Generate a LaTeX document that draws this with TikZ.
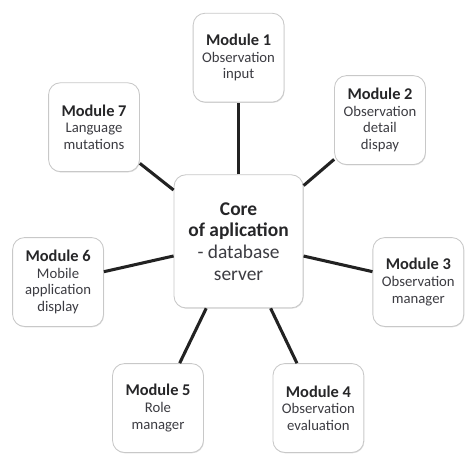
\documentclass[tikz,border=0pt]{standalone}
\usepackage{fontspec}
\setmainfont{Carlito}
\usepackage{tikz}
\usetikzlibrary{shadows}
\definecolor{BoxLine}{RGB}{200,200,200}
\definecolor{LinkGray}{RGB}{34,34,34}
\definecolor{TextGray}{RGB}{60,60,66}
\definecolor{TitleGray}{RGB}{38,38,40}

\newcommand{\modtitle}[1]{{\fontsize{11.8}{12.8}\selectfont\bfseries\color{TitleGray}#1}}

\begin{document}
\begin{tikzpicture}[
    modbox/.style={draw=BoxLine,fill=white,rounded corners=0.3cm,line width=0.6pt,
        minimum width=2.30cm,minimum height=2.25cm,align=center,inner sep=1pt,
        text=TextGray,font=\fontsize{10.6}{12}\selectfont,
        drop shadow={shadow xshift=0.4pt,shadow yshift=-0.6pt,opacity=0.25}},
    corebox/.style={modbox,minimum width=3.27cm,minimum height=3.37cm,
        font=\fontsize{14}{15.6}\selectfont},
    link/.style={LinkGray,line width=2.2pt}
]
\useasboundingbox (0,0) rectangle (12,12);
\fill[white] (0,0) rectangle (12,12);

% hub and the seven modules
\node[corebox] (core) at (6.04,5.89) {\textbf{\color{TitleGray}Core}\\\textbf{\color{TitleGray}of aplication}\\- database\\server};
\node[modbox] (m1) at (6.04,10.54) {\modtitle{Module 1}\\Observation\\input};
\node[modbox] (m2) at (9.62,8.96) {\modtitle{Module 2}\\Observation\\detail\\dispay};
\node[modbox] (m3) at (10.59,4.86) {\modtitle{Module 3}\\Observation\\manager};
\node[modbox] (m4) at (8.06,1.67) {\modtitle{Module 4}\\Observation\\evaluation};
\node[modbox] (m5) at (4.00,1.67) {\modtitle{Module 5}\\Role\\manager};
\node[modbox] (m6) at (1.47,4.86) {\modtitle{Module 6}\\Mobile\\application\\display};
\node[modbox] (m7) at (2.38,8.78) {\modtitle{Module 7}\\Language\\mutations};

% spokes
\foreach \m in {m1,m2,m3,m4,m5,m6,m7}
    \draw[link] (core) -- (\m);
\end{tikzpicture}
\end{document}
